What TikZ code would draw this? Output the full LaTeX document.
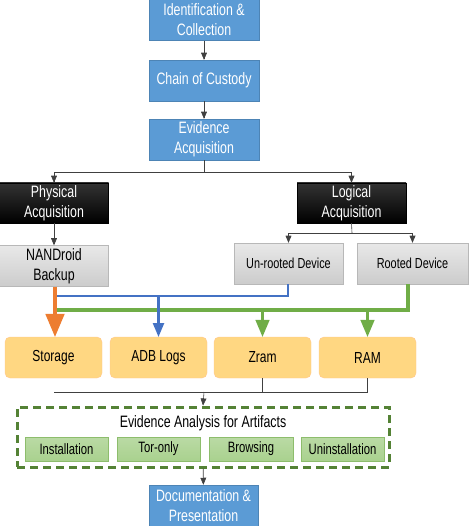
\documentclass[tikz,border=0pt]{standalone}
\usepackage{fontspec}
\setmainfont{Liberation Sans}[FakeStretch=0.75]
\usepackage{tikz}
\usetikzlibrary{calc}
\usetikzlibrary{arrows}
\definecolor{boxblue}{HTML}{5B9BD5}
\definecolor{boxyel}{HTML}{FFD782}
\definecolor{boxgrn}{HTML}{A9D18E}
\definecolor{dashgrn}{HTML}{548235}
\definecolor{lnorange}{HTML}{ED7D31}
\definecolor{lnblue}{HTML}{4472C4}
\definecolor{lngreen}{HTML}{70AD47}

\begin{document}
\begin{tikzpicture}[x=1pt, y=-1pt,
  blu/.style={draw=boxblue!85!black, fill=boxblue, text=white, align=center, inner sep=1pt,
    minimum width=110pt, minimum height=41pt, font=\fontsize{16.5}{20}\selectfont},
  blk/.style={draw=black, top color=black!80, bottom color=black, text=white, align=center, inner sep=1pt,
    minimum width=109pt, minimum height=40pt, font=\fontsize{16.5}{20}\selectfont},
  gry/.style={draw=black!28, top color=black!9, bottom color=black!20, align=center, inner sep=1pt,
    minimum width=109pt, minimum height=41pt, font=\fontsize{14.5}{18}\selectfont},
  ylw/.style={draw=orange!45, fill=boxyel, rounded corners=5pt, inner sep=1pt,
    minimum width=97pt, minimum height=41pt, font=\fontsize{16}{20}\selectfont},
  grn/.style={draw=lngreen!80, top color=boxgrn!80, bottom color=boxgrn, inner sep=1pt,
    minimum width=83pt, minimum height=24pt, font=\fontsize{15}{18}\selectfont},
  ln/.style={draw=black!75, line width=0.6pt, >=triangle 45}
]
\useasboundingbox (0,0) rectangle (474,526);

\node[blu] (IC) at (204,20) {Identification \&\\Collection};
\node[blu] (CC) at (204,80.5) {Chain of Custody};
\node[blu] (EA) at (204,139.5) {Evidence\\Acquisition};
\node[blk] (PA) at (54,203) {Physical\\Acquisition};
\node[blk] (LA) at (351.5,203) {Logical\\Acquisition};
\node[gry, font=\fontsize{16.5}{20}\selectfont] (NB) at (54,266) {NANDroid\\Backup};
\node[gry] (UD) at (288.5,263.5) {Un-rooted Device};
\node[gry, minimum width=111pt] (RD) at (412.5,263.5) {Rooted Device};
\node[ylw] (ST) at (53.5,357.5) {Storage};
\node[ylw] (AL) at (158.5,357.5) {ADB Logs};
\node[ylw] (ZR) at (262.5,357.5) {Zram};
\node[ylw] (RM) at (367.5,357.5) {RAM};
\node[draw=dashgrn, line width=3pt, dash pattern=on 8pt off 5pt, minimum width=372pt, minimum height=60pt] (EAA) at (203,437) {};
\node[font=\fontsize{16.5}{20}\selectfont] (TT) at (203,423) {Evidence Analysis for Artifacts};
\node[grn] (IN) at (66.5,449) {Installation};
\node[grn] (TO) at (158.5,449) {Tor-only};
\node[grn, minimum width=84pt] (BR) at (251,449) {Browsing};
\node[grn] (UN) at (342.5,449) {Uninstallation};
\node[blu, minimum width=109pt] (DP) at (203.5,505.5) {Documentation \&\\Presentation};

\coordinate (S1) at (204,172);
\coordinate (S2) at (352,233);
\coordinate (B1) at (55,296);
\coordinate (G1) at (55,310);
\coordinate (M1) at (204,392);
\coordinate (M2) at (54,392);

\draw[ln, ->] (IC) -- (CC);
\draw[ln, ->] (CC) -- (EA);
\draw[ln] (EA) -- (S1);
\draw[ln, ->] (S1) -| (PA.north);
\draw[ln, ->] (S1) -| (LA.north);
\draw[ln, ->] (PA) -- (NB);
\draw[ln] (LA.south) -- (S2);
\draw[ln, ->] (S2) -| (UD.north);
\draw[ln, ->] (S2) -| (RD.north);

\draw[lngreen, line width=4pt] ([xshift=-5pt]RD.south) |- (G1);
\draw[lngreen, line width=3pt, ->, >=triangle 45] (ZR.north |- G1) -- (ZR.north);
\draw[lngreen, line width=3pt, ->, >=triangle 45] (RM.north |- G1) -- (RM.north);
\draw[lnblue, line width=2.5pt] ([xshift=-0.5pt]UD.south) |- (B1);
\draw[lnblue, line width=2.2pt, ->, >=triangle 45] (AL.north |- B1) -- (AL.north);
\draw[lnorange, line width=4.5pt, ->, >=triangle 45] ([xshift=1pt]NB.south) -- ([xshift=1pt]NB.south |- ST.north);

\draw[ln] (ZR) -- (ZR.south |- M1);
\draw[ln] (RM) |- (M2);
\draw[ln, ->] (M1) -- (EAA.north);
\draw[ln, ->] (EAA) -- (DP);

\end{tikzpicture}
\end{document}
